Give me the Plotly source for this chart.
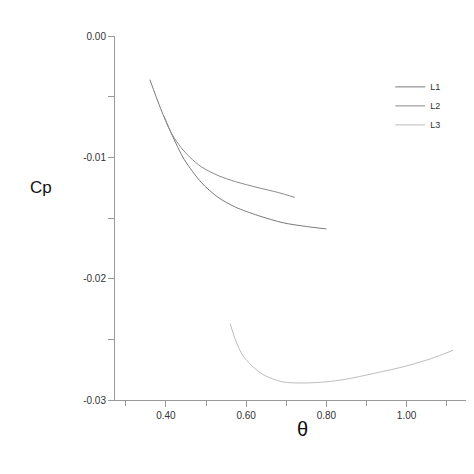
import plotly.graph_objs as go

# Curves
l1_x = [0.360, 0.387, 0.413, 0.446, 0.489, 0.530, 0.573, 0.630, 0.693, 0.750, 0.800]
l1_y = [-0.0036, -0.0060, -0.0080, -0.0102, -0.0121, -0.0133, -0.0141, -0.0148, -0.0154, -0.0157, -0.0159]

l2_x = [0.395, 0.415, 0.438, 0.460, 0.489, 0.530, 0.573, 0.630, 0.680, 0.721]
l2_y = [-0.0066, -0.0081, -0.0092, -0.0100, -0.0108, -0.0115, -0.0120, -0.0125, -0.0129, -0.0133]

l3_x = [0.560, 0.575, 0.591, 0.615, 0.642, 0.690, 0.744, 0.800, 0.846, 0.920, 0.999, 1.060, 1.116]
l3_y = [-0.0237, -0.0252, -0.0263, -0.0272, -0.0279, -0.0285, -0.0286, -0.0285, -0.0283, -0.0278, -0.0272, -0.0266, -0.0259]

names = ["L1", "L2", "L3"]
colors = ["#7a7a7a", "#8a8a8a", "#bdbdbd"]

fig = go.Figure()
for name, xs, ys, c in zip(names, [l1_x, l2_x, l3_x], [l1_y, l2_y, l3_y], colors):
    fig.add_trace(go.Scatter(x=xs, y=ys, mode="lines", name=name,
                             line=dict(color=c, width=1, shape="spline", smoothing=0.8)))

axis_common = dict(showgrid=False, zeroline=False, showline=True, linecolor="#999",
                   linewidth=1, ticks="outside", ticklen=6, tickcolor="#999",
                   tickfont=dict(family="Liberation Sans, Arial", size=10, color="#333"))

fig.update_layout(
    width=474, height=474,
    margin=dict(l=107, r=0, t=28, b=82),
    plot_bgcolor="white", paper_bgcolor="white",
    xaxis=dict(range=[0.273, 1.188], tickvals=[0.4, 0.6, 0.8, 1.0],
               ticktext=["0.40", "0.60", "0.80", "1.00"],
               minor=dict(tickvals=[0.3, 0.5, 0.7, 0.9, 1.1], ticks="outside",
                          ticklen=5, tickcolor="#999"),
               **axis_common),
    yaxis=dict(range=[-0.03, 0], tickvals=[0, -0.01, -0.02, -0.03],
               ticktext=["0.00", "-0.01", "-0.02", "-0.03"],
               minor=dict(tickvals=[-0.005, -0.015, -0.025], ticks="outside",
                          ticklen=6, tickcolor="#999"),
               **axis_common),
    legend=dict(x=0.75, y=0.9, xanchor="left", yanchor="top", bgcolor="rgba(0,0,0,0)",
                font=dict(family="Liberation Sans, Arial", size=9, color="#333"),
                tracegroupgap=0),
    showlegend=True,
)

plot_w, plot_h = 474 - 107, 474 - 28 - 82
fig.add_annotation(text="Cp", x=(28 - 115) / plot_w, y=(400 - 188) / plot_h,
                   xref="paper", yref="paper", showarrow=False,
                   font=dict(family="Liberation Sans, Arial", size=17, color="#111"))
fig.add_annotation(text="θ", x=(302 - 115) / plot_w, y=-(442 - 400) / plot_h,
                   xref="paper", yref="paper", showarrow=False,
                   font=dict(family="Liberation Sans, Arial", size=20, color="#111"))

fig.write_html("out.html")
